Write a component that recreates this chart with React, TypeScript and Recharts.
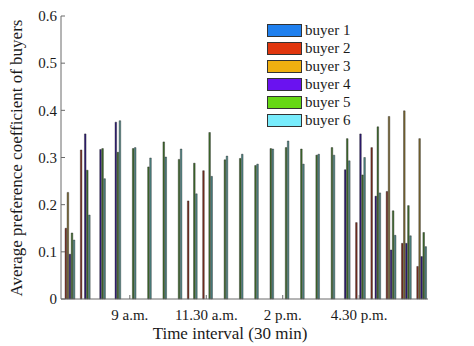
import { BarChart, Bar, XAxis, YAxis, Legend } from "recharts";

// 30 min slots, 7 a.m. .. 6.30 p.m.
const intervals = [
  "7 a.m.", "7.30 a.m.", "8 a.m.", "8.30 a.m.", "9 a.m.", "9.30 a.m.",
  "10 a.m.", "10.30 a.m.", "11 a.m.", "11.30 a.m.", "12 p.m.", "12.30 p.m.",
  "1 p.m.", "1.30 p.m.", "2 p.m.", "2.30 p.m.", "3 p.m.", "3.30 p.m.",
  "4 p.m.", "4.30 p.m.", "5 p.m.", "5.30 p.m.", "6 p.m.", "6.30 p.m.",
];
const tickLabels = ["9 a.m.", "11.30 a.m.", "2 p.m.", "4.30 p.m."];
const yTicks = [0, 0.1, 0.2, 0.3, 0.4, 0.5, 0.6];

const buyerNames = ["buyer 1", "buyer 2", "buyer 3", "buyer 4", "buyer 5", "buyer 6"];
// legend swatch colours, and the darker look the thin outlined bars have
const buyerColors = ["#2080ee", "#e0360e", "#f0b010", "#6a12f0", "#66d814", "#78ecfc"];
const barColors = ["#1c4a80", "#7a2c1e", "#7e6a30", "#2e1a78", "#3f6e2c", "#4f8a88"];

const buyer1 = [0, 0, 0, 0, 0, 0, 0, 0, 0, 0, 0, 0, 0, 0, 0, 0, 0, 0, 0, 0, 0, 0, 0, 0];
const buyer2 = [0.15, 0.316, 0, 0, 0, 0, 0, 0, 0.208, 0.272, 0, 0, 0, 0, 0, 0, 0, 0, 0, 0.162, 0.321, 0.228, 0.118, 0.069];
const buyer3 = [0.226, 0, 0, 0, 0, 0, 0, 0, 0, 0, 0, 0, 0, 0, 0, 0, 0, 0, 0, 0, 0, 0.387, 0.399, 0.34];
const buyer4 = [0.095, 0.35, 0.317, 0.375, 0, 0, 0, 0, 0, 0, 0, 0, 0, 0, 0, 0, 0, 0, 0.274, 0.35, 0.218, 0.104, 0.118, 0.09];
const buyer5 = [0.14, 0.273, 0.319, 0.311, 0.319, 0.28, 0.333, 0.296, 0.288, 0.353, 0.295, 0.298, 0.283, 0.319, 0.321, 0.318, 0.305, 0.321, 0.34, 0.263, 0.365, 0.187, 0.198, 0.141];
const buyer6 = [0.125, 0.178, 0.255, 0.378, 0.321, 0.299, 0.301, 0.318, 0.223, 0.26, 0.303, 0.307, 0.286, 0.318, 0.335, 0.286, 0.307, 0.305, 0.293, 0.3, 0.225, 0.135, 0.134, 0.111];

const series = [buyer1, buyer2, buyer3, buyer4, buyer5, buyer6];

const data = intervals.map((t, i) => {
  const row: Record<string, string | number> = { t };
  buyerNames.forEach((n, k) => {
    row[n] = series[k][i];
  });
  return row;
});

const font = "Liberation Serif";
const axisColor = "#6a6a6a";
const textColor = "#1a1a1a";

function BottomTick({ x, y, payload }: any) {
  if (!tickLabels.includes(payload.value)) return null;
  return (
    <g>
      <line x1={x} x2={x} y1={y} y2={y - 4} stroke={axisColor} />
      <text x={x} y={y + 21} textAnchor="middle" style={{ fontFamily: font, fontSize: 15 }} fill={textColor}>
        {payload.value}
      </text>
    </g>
  );
}

function TopTick({ x, y, payload }: any) {
  if (!tickLabels.includes(payload.value)) return null;
  return <line x1={x} x2={x} y1={y} y2={y + 4} stroke={axisColor} />;
}

function BuyerLegend() {
  return (
    <div style={{ fontFamily: font, fontSize: 15, color: textColor }}>
      {buyerNames.map((n, k) => (
        <div key={n} style={{ display: "flex", alignItems: "center", height: 18 }}>
          <div
            style={{
              width: 33,
              height: 11,
              background: buyerColors[k],
              border: "1px solid #333",
              marginRight: 3,
            }}
          />
          <span>{n}</span>
        </div>
      ))}
    </div>
  );
}

export default function App() {
  return (
    <div
      style={{
        position: "absolute",
        left: 0,
        top: 0,
        width: 474,
        height: 346,
        background: "#fff",
        fontFamily: font,
      }}
    >
      <BarChart
        width={474}
        height={346}
        data={data}
        margin={{ top: 16, right: 46, bottom: 0, left: 0 }}
        barSize={1.6}
        barGap={0.45}
        style={{ fontFamily: font }}
      >
        <XAxis
          dataKey="t"
          height={47}
          interval={0}
          tickSize={0}
          tickMargin={0}
          tickLine={false}
          stroke={axisColor}
          tick={<BottomTick />}
          label={{
            content: () => (
              <text x={230} y={339} textAnchor="middle" style={{ fontFamily: font, fontSize: 17 }} fill={textColor}>
                Time interval (30 min)
              </text>
            ),
          }}
        />
        <XAxis
          xAxisId="top"
          orientation="top"
          dataKey="t"
          height={0}
          interval={0}
          tickSize={0}
          tickMargin={0}
          tickLine={false}
          stroke={axisColor}
          tick={<TopTick />}
        />
        <YAxis
          width={61}
          domain={[0, 0.6]}
          ticks={yTicks}
          tickSize={-4}
          tickMargin={8}
          stroke={axisColor}
          tick={{ fontSize: 15, fontFamily: font, fill: textColor }}
          tickFormatter={(v) => (v === 0 ? "0" : Number(v).toFixed(1))}
          label={{
            content: () => (
              <text
                x={22}
                y={158}
                transform="rotate(-90 22 158)"
                textAnchor="middle"
                style={{ fontFamily: font, fontSize: 17 }}
                fill={textColor}
              >
                Average preference coefficient of buyers
              </text>
            ),
          }}
        />
        <YAxis
          yAxisId="right"
          orientation="right"
          width={0}
          domain={[0, 0.6]}
          ticks={yTicks}
          tickSize={-4}
          tick={false}
          stroke={axisColor}
        />
        <Legend
          layout="vertical"
          align="center"
          verticalAlign="middle"
          wrapperStyle={{ left: 267, top: 21, width: 110 }}
          content={<BuyerLegend />}
        />
        {buyerNames.map((n, k) => (
          <Bar
            key={n}
            dataKey={n}
            fill={barColors[k]}
            stroke="#222"
            strokeWidth={0.4}
            isAnimationActive={false}
          />
        ))}
      </BarChart>
    </div>
  );
}
